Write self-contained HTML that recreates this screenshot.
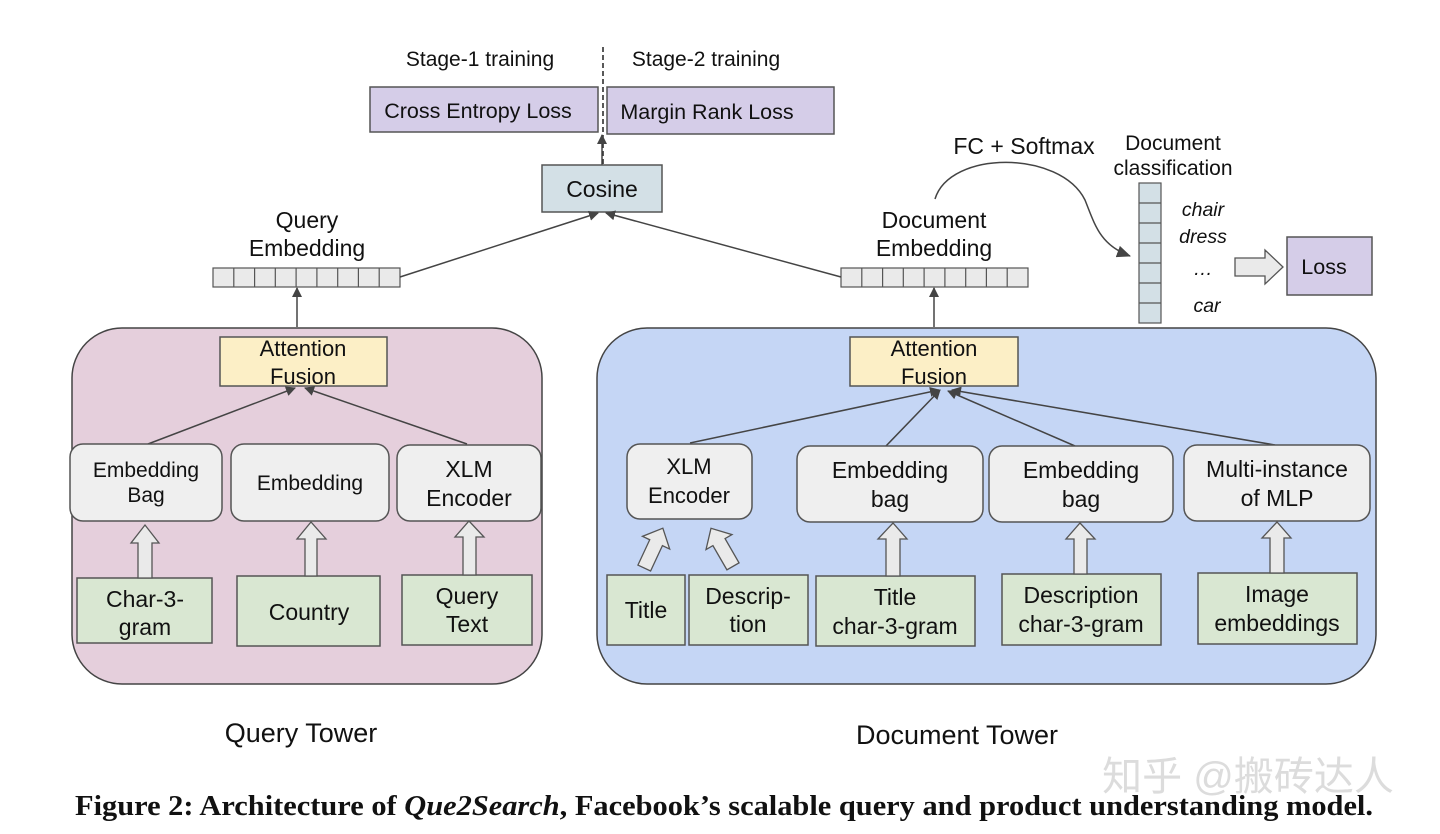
<!DOCTYPE html>
<html><head><meta charset="utf-8"><style>
html,body{margin:0;padding:0;background:#fff;}
svg{display:block;}
text{font-family:"Liberation Sans",sans-serif;fill:#111;}
.c{text-anchor:middle;}
</style></head><body>
<svg width="1440" height="834" viewBox="0 0 1440 834" xmlns="http://www.w3.org/2000/svg">
<defs>
<marker id="ah" markerWidth="10" markerHeight="10" refX="9" refY="5" orient="auto" markerUnits="userSpaceOnUse">
<path d="M0,0 L10,5 L0,10 z" fill="#444"/></marker>
<marker id="ah2" markerWidth="14" markerHeight="12" refX="13" refY="6" orient="auto" markerUnits="userSpaceOnUse">
<path d="M0,0 L14,6 L0,12 z" fill="#444"/></marker>
</defs>
<rect width="1440" height="834" fill="#fff"/>

<!-- top -->
<text x="480" y="66" class="c" font-size="21">Stage-1 training</text>
<text x="706" y="66" class="c" font-size="21">Stage-2 training</text>
<rect x="370" y="87" width="228" height="45" fill="#d5cde8" stroke="#555" stroke-width="1.5"/>
<rect x="607" y="87" width="227" height="47" fill="#d5cde8" stroke="#555" stroke-width="1.5"/>
<text x="478" y="118" class="c" font-size="21.5">Cross Entropy Loss</text>
<text x="707" y="119" class="c" font-size="21.5">Margin Rank Loss</text>
<line x1="603" y1="47" x2="603" y2="165" stroke="#222" stroke-width="1.5" stroke-dasharray="5,3"/>
<line x1="602" y1="165" x2="602" y2="135" stroke="#444" stroke-width="1.5" marker-end="url(#ah)"/>
<rect x="542" y="165" width="120" height="47" fill="#d3e0e6" stroke="#555" stroke-width="1.5"/>
<text x="602" y="197" class="c" font-size="23">Cosine</text>

<text x="307" y="228" class="c" font-size="23">Query</text>
<text x="307" y="256" class="c" font-size="23">Embedding</text>
<rect x="213" y="268" width="187" height="19" fill="#eaeaea" stroke="#555" stroke-width="1.2"/>
<g stroke="#555" stroke-width="1.2">
<line x1="233.8" y1="268" x2="233.8" y2="287"/><line x1="254.6" y1="268" x2="254.6" y2="287"/><line x1="275.3" y1="268" x2="275.3" y2="287"/><line x1="296.1" y1="268" x2="296.1" y2="287"/><line x1="316.9" y1="268" x2="316.9" y2="287"/><line x1="337.7" y1="268" x2="337.7" y2="287"/><line x1="358.4" y1="268" x2="358.4" y2="287"/><line x1="379.2" y1="268" x2="379.2" y2="287"/>
</g>
<text x="934" y="228" class="c" font-size="23">Document</text>
<text x="934" y="256" class="c" font-size="23">Embedding</text>
<rect x="841" y="268" width="187" height="19" fill="#eaeaea" stroke="#555" stroke-width="1.2"/>
<g stroke="#555" stroke-width="1.2">
<line x1="861.8" y1="268" x2="861.8" y2="287"/><line x1="882.6" y1="268" x2="882.6" y2="287"/><line x1="903.3" y1="268" x2="903.3" y2="287"/><line x1="924.1" y1="268" x2="924.1" y2="287"/><line x1="944.9" y1="268" x2="944.9" y2="287"/><line x1="965.7" y1="268" x2="965.7" y2="287"/><line x1="986.4" y1="268" x2="986.4" y2="287"/><line x1="1007.2" y1="268" x2="1007.2" y2="287"/>
</g>
<line x1="400" y1="277" x2="598" y2="213" stroke="#444" stroke-width="1.5" marker-end="url(#ah)"/>
<line x1="841" y1="277" x2="606" y2="213" stroke="#444" stroke-width="1.5" marker-end="url(#ah)"/>
<line x1="297" y1="327" x2="297" y2="288" stroke="#444" stroke-width="1.5" marker-end="url(#ah)"/>
<line x1="934" y1="327" x2="934" y2="288" stroke="#444" stroke-width="1.5" marker-end="url(#ah)"/>

<text x="1024" y="154" class="c" font-size="23">FC + Softmax</text>
<path d="M 935 199 C 950 150, 1060 150, 1085 200 C 1095 225, 1100 245, 1130 256" fill="none" stroke="#444" stroke-width="1.5" marker-end="url(#ah2)"/>
<text x="1173" y="150" class="c" font-size="21">Document</text>
<text x="1173" y="175" class="c" font-size="21">classification</text>
<rect x="1139" y="183" width="22" height="140" fill="#d3e0e6" stroke="#555" stroke-width="1.2"/>
<g stroke="#555" stroke-width="1.2">
<line x1="1139" y1="203" x2="1161" y2="203"/><line x1="1139" y1="223" x2="1161" y2="223"/><line x1="1139" y1="243" x2="1161" y2="243"/><line x1="1139" y1="263" x2="1161" y2="263"/><line x1="1139" y1="283" x2="1161" y2="283"/><line x1="1139" y1="303" x2="1161" y2="303"/>
</g>
<g font-style="italic" font-size="19.5">
<text x="1203" y="216" class="c">chair</text>
<text x="1203" y="243" class="c">dress</text>
<text x="1203" y="275" class="c">…</text>
<text x="1207" y="312" class="c">car</text>
</g>
<polygon points="1235,258 1265,258 1265,250 1283,267 1265,284 1265,276 1235,276" fill="#eaeaea" stroke="#555" stroke-width="1.3"/>
<rect x="1287" y="237" width="85" height="58" fill="#d5cde8" stroke="#555" stroke-width="1.5"/>
<text x="1324" y="274" class="c" font-size="21.5">Loss</text>

<!-- Query tower -->
<rect x="72" y="328" width="470" height="356" rx="50" fill="#e5cfdc" stroke="#444" stroke-width="1.5"/>
<rect x="220" y="337" width="167" height="49" fill="#fcefc6" stroke="#555" stroke-width="1.5"/>
<text x="303" y="356" class="c" font-size="22">Attention</text>
<text x="303" y="384" class="c" font-size="22">Fusion</text>
<line x1="148" y1="444" x2="295" y2="388" stroke="#444" stroke-width="1.5" marker-end="url(#ah)"/>
<line x1="467" y1="444" x2="305" y2="388" stroke="#444" stroke-width="1.5" marker-end="url(#ah)"/>
<g fill="#efefef" stroke="#555" stroke-width="1.5">
<rect x="70" y="444" width="152" height="77" rx="13"/>
<rect x="231" y="444" width="158" height="77" rx="13"/>
<rect x="397" y="445" width="144" height="76" rx="13"/>
</g>
<text x="146" y="477" class="c" font-size="21">Embedding</text>
<text x="146" y="502" class="c" font-size="21">Bag</text>
<text x="310" y="490" class="c" font-size="21">Embedding</text>
<text x="469" y="477" class="c" font-size="23">XLM</text>
<text x="469" y="506" class="c" font-size="23">Encoder</text>
<g fill="#d9e7d2" stroke="#555" stroke-width="1.5">
<rect x="77" y="578" width="135" height="65"/>
<rect x="237" y="576" width="143" height="70"/>
<rect x="402" y="575" width="130" height="70"/>
</g>
<text x="145" y="607" class="c" font-size="23">Char-3-</text>
<text x="145" y="635" class="c" font-size="23">gram</text>
<text x="309" y="620" class="c" font-size="23">Country</text>
<text x="467" y="604" class="c" font-size="23">Query</text>
<text x="467" y="632" class="c" font-size="23">Text</text>
<g fill="#eaeaea" stroke="#555" stroke-width="1.3">
<polygon points="138,578 138,543 131,543 145,525 159,543 152,543 152,578"/>
<polygon points="305,576 305,539 297,539 311,522 326,539 317,539 317,576"/>
<polygon points="463,575 463,537 455,537 469,521 484,537 476,537 476,575"/>
</g>

<!-- Document tower -->
<rect x="597" y="328" width="779" height="356" rx="50" fill="#c5d6f5" stroke="#444" stroke-width="1.5"/>
<rect x="850" y="337" width="168" height="49" fill="#fcefc6" stroke="#555" stroke-width="1.5"/>
<text x="934" y="356" class="c" font-size="22">Attention</text>
<text x="934" y="384" class="c" font-size="22">Fusion</text>
<line x1="690" y1="443" x2="939" y2="390" stroke="#444" stroke-width="1.5" marker-end="url(#ah)"/>
<line x1="886" y1="446" x2="940" y2="390" stroke="#444" stroke-width="1.5" marker-end="url(#ah)"/>
<line x1="1075" y1="446" x2="948" y2="391" stroke="#444" stroke-width="1.5" marker-end="url(#ah)"/>
<line x1="1275" y1="445" x2="952" y2="390" stroke="#444" stroke-width="1.5" marker-end="url(#ah)"/>
<g fill="#efefef" stroke="#555" stroke-width="1.5">
<rect x="627" y="444" width="125" height="75" rx="13"/>
<rect x="797" y="446" width="186" height="76" rx="13"/>
<rect x="989" y="446" width="184" height="76" rx="13"/>
<rect x="1184" y="445" width="186" height="76" rx="13"/>
</g>
<text x="689" y="474" class="c" font-size="22">XLM</text>
<text x="689" y="503" class="c" font-size="22">Encoder</text>
<text x="890" y="478" class="c" font-size="23">Embedding</text>
<text x="890" y="507" class="c" font-size="23">bag</text>
<text x="1081" y="478" class="c" font-size="23">Embedding</text>
<text x="1081" y="507" class="c" font-size="23">bag</text>
<text x="1277" y="477" class="c" font-size="23">Multi-instance</text>
<text x="1277" y="506" class="c" font-size="23">of MLP</text>
<g fill="#d9e7d2" stroke="#555" stroke-width="1.5">
<rect x="607" y="575" width="78" height="70"/>
<rect x="689" y="575" width="119" height="70"/>
<rect x="816" y="576" width="159" height="70"/>
<rect x="1002" y="574" width="159" height="71"/>
<rect x="1198" y="573" width="159" height="71"/>
</g>
<text x="646" y="618" class="c" font-size="23">Title</text>
<text x="748" y="604" class="c" font-size="23">Descrip-</text>
<text x="748" y="632" class="c" font-size="23">tion</text>
<text x="895" y="605" class="c" font-size="23">Title</text>
<text x="895" y="634" class="c" font-size="23">char-3-gram</text>
<text x="1081" y="603" class="c" font-size="23">Description</text>
<text x="1081" y="632" class="c" font-size="23">char-3-gram</text>
<text x="1277" y="602" class="c" font-size="23">Image</text>
<text x="1277" y="631" class="c" font-size="23">embeddings</text>
<g fill="#eaeaea" stroke="#555" stroke-width="1.3">
<polygon points="886,576 886,539 878,539 893,523 907,539 900,539 900,576"/>
<polygon points="1074,574 1074,539 1066,539 1080,523 1095,539 1087,539 1087,574"/>
<polygon points="1270,573 1270,538 1262,538 1277,522 1291,538 1284,538 1284,573"/>
<polygon points="-7,42 -7,14 -15,14 0,-2 15,14 7,14 7,42" transform="translate(662,530) rotate(25)"/>
<polygon points="-7,42 -7,14 -15,14 0,-2 15,14 7,14 7,42" transform="translate(712,530) rotate(-30)"/>
</g>

<text x="301" y="742" class="c" font-size="27">Query Tower</text>
<text x="957" y="744" class="c" font-size="27">Document Tower</text>

<text x="1248" y="790" class="c" font-size="40" style="fill:#dcdcdc;font-family:'Liberation Sans','Noto Sans CJK SC',sans-serif">知乎 @搬砖达人</text>
<text x="75" y="815" font-size="29" font-weight="bold" textLength="1298" lengthAdjust="spacingAndGlyphs" style="font-family:'Liberation Serif',serif">Figure 2: Architecture of <tspan font-style="italic">Que2Search</tspan>, Facebook’s scalable query and product understanding model.</text>
</svg>
</body></html>
